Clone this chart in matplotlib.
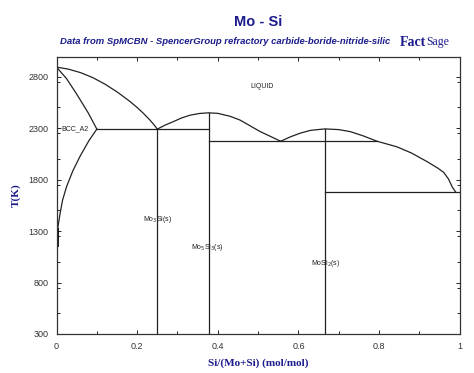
import numpy as np
import matplotlib.pyplot as plt
from matplotlib.ticker import MultipleLocator

# phase boundaries (x = Si mole fraction, T in K)
liq_mo_x = [0.0, 0.03, 0.06, 0.09, 0.12, 0.15, 0.18, 0.2, 0.215, 0.23, 0.24, 0.25]
liq_mo_t = [2892, 2872, 2838, 2790, 2727, 2652, 2565, 2500, 2445, 2385, 2340, 2290]

sol_bcc_x = [0.0, 0.025, 0.05, 0.079, 0.10]
sol_bcc_t = [2892, 2780, 2630, 2445, 2290]

solvus_x = [0.10, 0.08, 0.058, 0.04, 0.025, 0.015, 0.009, 0.004, 0.001, 0.0]
solvus_t = [2290, 2175, 2023, 1880, 1731, 1600, 1473, 1350, 1250, 1160]

liq_53_x = [0.25, 0.27, 0.29, 0.31, 0.331, 0.355, 0.377, 0.40, 0.43, 0.455, 0.48, 0.505, 0.53, 0.556]
liq_53_t = [2290, 2330, 2363, 2398, 2425, 2442, 2448, 2443, 2415, 2378, 2322, 2266, 2220, 2172]

liq_si2_x = [0.556, 0.58, 0.604, 0.63, 0.666, 0.70, 0.728, 0.76, 0.795, 0.844, 0.88,
             0.919, 0.945, 0.96, 0.972, 0.981, 0.99]
liq_si2_t = [2172, 2215, 2250, 2278, 2292, 2285, 2266, 2225, 2172, 2118, 2058,
             1974, 1912, 1870, 1805, 1730, 1677]

# invariants / compounds
h_lines = [(0.10, 0.377, 2290), (0.377, 0.795, 2170), (0.667, 1.0, 1677)]
v_lines = [(0.25, 2290), (0.377, 2448), (0.667, 2292)]

labels = [("LIQUID", 0.51, 2700), ("BCC_A2", 0.013, 2290),
          ("Mo$_3$Si(s)", 0.25, 1408), ("Mo$_5$Si$_3$(s)", 0.374, 1136),
          ("MoSi$_2$(s)", 0.667, 980)]

navy = '#1c1c8c'
lc = '#222222'

fig = plt.figure(figsize=(4.74, 3.73), dpi=100)
ax = fig.add_axes([0.1192, 0.1046, 0.8508, 0.7425])

for xs, ts in [(liq_mo_x, liq_mo_t), (sol_bcc_x, sol_bcc_t), (solvus_x, solvus_t),
               (liq_53_x, liq_53_t), (liq_si2_x, liq_si2_t)]:
    ax.plot(xs, ts, color=lc, lw=0.9)
for x0, x1, t in h_lines:
    ax.plot([x0, x1], [t, t], color=lc, lw=0.9)
for x, t in v_lines:
    ax.plot([x, x], [300, t], color=lc, lw=0.9)
ax.plot([0, 0], [1160, 1320], color='black', lw=2)

for s, x, t in labels:
    ha = 'left' if s == 'BCC_A2' else 'center'
    ax.text(x, t, s, fontsize=5, ha=ha, va='center', family='Liberation Sans', color='#222222')

ax.set_xlim(0, 1)
ax.set_ylim(300, 2990)
ax.set_xticks([0, 0.2, 0.4, 0.6, 0.8, 1.0])
ax.set_xticklabels(['0', '0.2', '0.4', '0.6', '0.8', '1'])
ax.set_yticks([300, 800, 1300, 1800, 2300, 2800])
ax.xaxis.set_minor_locator(MultipleLocator(0.1))
ax.yaxis.set_minor_locator(MultipleLocator(250))
ax.tick_params(which='both', direction='in', top=True, right=True, length=3,
               width=0.6, labelsize=6.5, labelcolor='#333333', pad=6)
ax.tick_params(which='minor', length=2)
for lab in ax.get_xticklabels() + ax.get_yticklabels():
    lab.set_family('Liberation Sans')
for sp in ax.spines.values():
    sp.set_linewidth(0.9)
    sp.set_color('#333333')

ax.set_xlabel('Si/(Mo+Si) (mol/mol)', family='Liberation Serif', fontweight='bold',
              fontsize=8, color=navy, labelpad=5)
ax.set_ylabel('T(K)', family='Liberation Serif', fontweight='bold',
              fontsize=8, color=navy, labelpad=5)

fig.text(258 / 474, 1 - 22 / 373, 'Mo - Si', ha='center', va='center', fontsize=10.5,
         fontweight='bold', color=navy, family='Liberation Sans')
fig.text(60 / 474, 1 - 42 / 373,
         'Data from SpMCBN - SpencerGroup refractory carbide-boride-nitride-silic',
         ha='left', va='center', fontsize=6.8, fontweight='bold', style='italic',
         color=navy, family='Liberation Sans')
fig.text(400 / 474, 1 - 42 / 373, 'Fact', ha='left', va='center', fontsize=10,
         fontweight='bold', color=navy, family='Liberation Serif')
fig.text(426 / 474, 1 - 42 / 373, 'Sage', ha='left', va='center', fontsize=8.5,
         color=navy, family='Liberation Serif')

fig.savefig('out.png', dpi=100)
